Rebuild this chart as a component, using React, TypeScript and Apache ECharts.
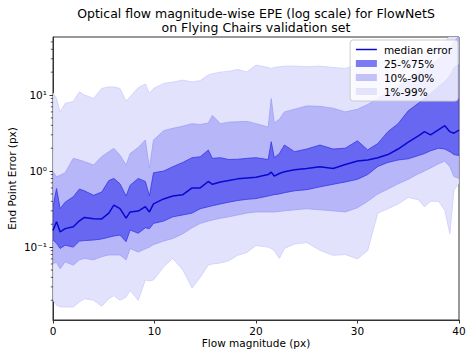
import React, { useEffect, useRef } from 'react';
import * as echarts from 'echarts';

// Flow magnitude (px) sample positions
const flowMagnitude = [0, 0.35, 0.7, 1.2, 2, 2.6, 3.1, 4, 4.8, 5.5, 6, 6.6, 7.2, 7.6, 8.4, 9.1, 9.5, 9.9, 10.9, 11.8, 12.8, 13.7, 14.5, 15.3, 15.7, 16.5, 17.3, 18.2, 19.1, 20, 21.2, 21.5, 21.8, 22.3, 22.8, 23.8, 25, 26.3, 27.6, 28.8, 30, 31, 32, 33, 34, 35, 36, 36.6, 37.2, 38, 38.6, 39.1, 39.5, 40];

const medianError = [0.165, 0.215, 0.159, 0.175, 0.185, 0.222, 0.246, 0.236, 0.235, 0.28, 0.357, 0.32, 0.24, 0.29, 0.298, 0.34, 0.29, 0.37, 0.43, 0.47, 0.49, 0.6, 0.6, 0.73, 0.67, 0.72, 0.75, 0.79, 0.81, 0.83, 0.9, 0.97, 0.86, 0.93, 0.98, 1.04, 1.08, 1.14, 1.08, 1.22, 1.36, 1.4, 1.5, 1.65, 1.95, 2.4, 2.9, 3.3, 3.0, 3.5, 3.95, 3.3, 3.15, 3.45];

const p25 = [0.124, 0.112, 0.096, 0.106, 0.1, 0.12, 0.122, 0.124, 0.128, 0.135, 0.14, 0.144, 0.118, 0.168, 0.152, 0.18, 0.175, 0.205, 0.22, 0.25, 0.265, 0.28, 0.32, 0.34, 0.35, 0.37, 0.39, 0.41, 0.425, 0.435, 0.47, 0.48, 0.49, 0.5, 0.52, 0.55, 0.57, 0.62, 0.67, 0.72, 0.78, 0.9, 1.15, 1.3, 1.4, 1.45, 1.6, 1.7, 1.85, 2.0, 1.95, 1.8, 1.65, 1.6];
const p75 = [0.34, 0.59, 0.32, 0.39, 0.46, 0.58, 0.55, 0.48, 0.53, 0.75, 0.8, 0.68, 0.47, 0.65, 0.8, 0.73, 0.47, 0.95, 1.0, 1.14, 1.3, 1.5, 1.54, 1.89, 1.47, 1.5, 1.42, 1.43, 1.47, 1.5, 1.42, 2.43, 1.5, 1.7, 2.2, 1.8, 1.95, 2.2, 1.95, 2.0, 2.5, 1.9, 2.3, 3.3, 4.2, 6.2, 7.8, 9, 10.5, 13, 15, 18, 23, 25];

const p10 = [0.061, 0.063, 0.052, 0.064, 0.058, 0.068, 0.071, 0.068, 0.075, 0.079, 0.079, 0.079, 0.068, 0.096, 0.086, 0.095, 0.1, 0.108, 0.12, 0.13, 0.15, 0.18, 0.205, 0.22, 0.227, 0.24, 0.25, 0.265, 0.28, 0.29, 0.29, 0.29, 0.29, 0.295, 0.3, 0.31, 0.32, 0.31, 0.3, 0.29, 0.33, 0.4, 0.5, 0.58, 0.68, 0.78, 0.92, 1.0, 1.1, 1.25, 1.35, 1.14, 0.85, 0.8];
const p90 = [0.98, 0.84, 0.88, 0.95, 1.47, 1.4, 1.33, 1.2, 1.55, 1.8, 1.99, 1.62, 1.2, 1.7, 2.05, 2.56, 1.08, 2.56, 3.4, 3.65, 3.9, 4.2, 4.1, 4.3, 5.4, 4.2, 4.4, 4.45, 4.5, 4.2, 3.8, 9.0, 4.3, 4.8, 6.0, 6.5, 7.2, 7.1, 6.7, 6.0, 6.5, 7.5, 9, 11, 13, 16, 20, 22, 25, 30, 35, 40, 50, 60];

const p01 = [0.02, 0.0172, 0.0164, 0.0163, 0.0163, 0.019, 0.021, 0.02, 0.0167, 0.021, 0.023, 0.02, 0.022, 0.027, 0.02, 0.037, 0.036, 0.037, 0.055, 0.071, 0.05, 0.029, 0.04, 0.058, 0.06, 0.062, 0.066, 0.078, 0.085, 0.105, 0.1, 0.096, 0.09, 0.071, 0.096, 0.11, 0.115, 0.091, 0.078, 0.08, 0.07, 0.09, 0.28, 0.32, 0.37, 0.45, 0.42, 0.34, 0.4, 0.4, 0.306, 0.15, 0.56, 0.7];
const p99 = [10.6, 9, 6.0, 7.8, 8.2, 11, 10, 9.0, 12.2, 12.8, 12.8, 12.2, 8.3, 9.5, 12.5, 14, 10.5, 12.2, 14.2, 14.8, 15.7, 14.8, 15.5, 18.3, 19, 20, 20.5, 21.7, 20.1, 24.8, 23, 22.4, 23, 23.5, 24, 24, 23.5, 24, 23, 22.4, 25, 26, 27, 28, 30, 32, 35, 37, 40, 45, 50, 60, 70, 80];

const xTickValues = [0, 10, 20, 30, 40];
const yMajorTicks = [0.1, 1, 10];
const yTickLabels = ['10⁻¹', '10⁰', '10¹'];
const yMinorTicks = [0.02, 0.03, 0.04, 0.05, 0.06, 0.07, 0.08, 0.09, 0.2, 0.3, 0.4, 0.5, 0.6, 0.7, 0.8, 0.9, 2, 3, 4, 5, 6, 7, 8, 9, 20, 30, 40, 50];

const FONT = 'DejaVu Sans';

function bandSeries(name: string, lo: number[], hi: number[], legendColor: string, fill: string, stroke: string, z: number) {
  return {
    type: 'custom',
    name,
    clip: true,
    silent: true,
    z,
    itemStyle: { color: legendColor },
    data: flowMagnitude.map((x, i) => [x, lo[i], hi[i]]),
    encode: { x: 0, y: [1, 2] },
    renderItem: (params: any, api: any) => {
      if (params.dataIndex !== 0) return null;
      const pts: number[][] = [];
      for (let i = 0; i < flowMagnitude.length; i++) pts.push(api.coord([flowMagnitude[i], hi[i]]));
      for (let i = flowMagnitude.length - 1; i >= 0; i--) pts.push(api.coord([flowMagnitude[i], lo[i]]));
      return {
        type: 'polygon',
        shape: { points: pts },
        style: { fill, stroke, lineWidth: 0.8 },
      };
    },
  };
}

export default function App() {
  const ref = useRef<HTMLDivElement>(null);
  useEffect(() => {
    if (!ref.current) return;
    const chart = echarts.init(ref.current, undefined, { renderer: 'svg' });
    const option: any = {
      animation: false,
      textStyle: { fontFamily: FONT },
      graphic: [
        {
          type: 'text',
          x: 256,
          y: 6,
          style: {
            text: 'Optical flow magnitude-wise EPE (log scale) for FlowNetS\non Flying Chairs validation set',
            align: 'center',
            verticalAlign: 'top',
            textAlign: 'center',
            textVerticalAlign: 'top',
            font: `12.5px "${FONT}"`,
            lineHeight: 14,
            fill: '#000',
          },
        },
      ],
      grid: {
        left: 53,
        right: 15,
        top: 37,
        bottom: 39,
        show: true,
        borderColor: '#333',
        borderWidth: 1,
        backgroundColor: 'transparent',
        containLabel: false,
        outerBoundsMode: 'none',
      },
      legend: {
        orient: 'vertical',
        right: 16,
        top: 40,
        padding: [4, 6, 4, 5],
        itemWidth: 21,
        itemHeight: 7,
        itemGap: 3,
        backgroundColor: 'rgba(255,255,255,0.8)',
        borderColor: '#cccccc',
        borderWidth: 1,
        borderRadius: 3,
        textStyle: { fontFamily: FONT, fontSize: 10.5, color: '#000', padding: [0, 0, 0, 2] },
        data: [
          { name: 'median error', itemStyle: { opacity: 0, color: 'rgba(0,0,0,0)', borderWidth: 0 }, lineStyle: { width: 1.5, color: '#0808d0' } },
          { name: '25-%75%', icon: 'rect' },
          { name: '10%-90%', icon: 'rect' },
          { name: '1%-99%', icon: 'rect' },
        ],
      },
      xAxis: {
        type: 'value',
        min: 0,
        max: 40,
        interval: 10,
        name: 'Flow magnitude (px)',
        nameLocation: 'middle',
        nameGap: 17,
        nameMoveOverlap: false,
        nameTextStyle: { fontFamily: FONT, fontSize: 10.5, color: '#000' },
        splitLine: { show: false },
        axisLine: { show: true, lineStyle: { color: '#333', width: 1 } },
        axisTick: { show: true, length: 3.5, inside: false, lineStyle: { color: '#333' }, customValues: xTickValues },
        axisLabel: { fontFamily: FONT, fontSize: 10.5, color: '#000', margin: 5, customValues: xTickValues },
      },
      yAxis: {
        type: 'log',
        logBase: 10,
        min: 0.011,
        max: 58,
        name: 'End Point Error (px)',
        nameLocation: 'middle',
        nameGap: 36,
        nameMoveOverlap: false,
        nameTextStyle: { fontFamily: FONT, fontSize: 10.5, color: '#000' },
        splitLine: { show: false },
        axisLine: { show: true, lineStyle: { color: '#333', width: 1 } },
        axisTick: { show: true, length: 3.5, inside: false, lineStyle: { color: '#333' }, customValues: yMajorTicks },
        axisLabel: {
          fontFamily: FONT,
          fontSize: 10.5,
          color: '#000',
          margin: 6,
          customValues: yMajorTicks,
          formatter: (v: number) => {
            for (let i = 0; i < yMajorTicks.length; i++) {
              if (Math.abs(v - yMajorTicks[i]) / yMajorTicks[i] < 1e-6) return yTickLabels[i];
            }
            return '';
          },
        },
      },
      series: [
        bandSeries('1%-99%', p01, p99, '#e3e3fb', '#e2e2fc', 'rgba(205,205,252,1)', 1),
        bandSeries('10%-90%', p10, p90, '#c2c2f7', '#b6b6f9', 'rgba(160,160,248,1)', 2),
        bandSeries('25-%75%', p25, p75, '#7a7af2', '#6767f2', 'rgba(55,55,230,1)', 3),
        {
          type: 'line',
          name: 'median error',
          data: flowMagnitude.map((x, i) => [x, medianError[i]]),
          symbol: 'none',
          showSymbol: false,
          z: 4,
          lineStyle: { color: '#0808d0', width: 1.5 },
          itemStyle: { color: '#0808d0' },
        },
        {
          type: 'custom',
          name: 'minorTicks',
          clip: false,
          silent: true,
          z: 5,
          data: yMinorTicks.map((v) => [0, v]),
          encode: { x: 0, y: 1 },
          renderItem: (params: any, api: any) => {
            const p = api.coord([0, api.value(1)]);
            return {
              type: 'line',
              shape: { x1: p[0] - 2.2, y1: p[1], x2: p[0], y2: p[1] },
              style: { stroke: '#333', lineWidth: 0.8 },
            };
          },
        },
      ],
    };
    chart.setOption(option);
    return () => chart.dispose();
  }, []);
  return <div ref={ref} style={{ position: 'absolute', left: 0, top: 0, width: 474, height: 359 }} />;
}
